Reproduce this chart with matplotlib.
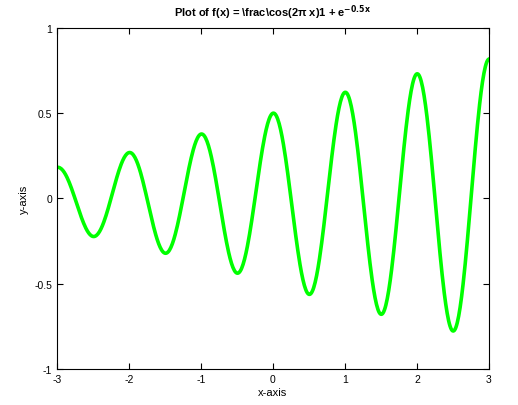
import numpy as np
import matplotlib
matplotlib.use("Agg")
import matplotlib.pyplot as plt

# curve as stated in the chart title: cos(2*pi*x) / (1 + e^(-0.5x))
x_range = [-3, 3]
freq = 2 * np.pi
decay = -0.5
n_samples = 600

xticks = [-3, -2, -1, 0, 1, 2, 3]
yticks = [-1, -0.5, 0, 0.5, 1]
ytick_labels = ["-1", "-0.5", "0", "0.5", "1"]

x = np.linspace(x_range[0], x_range[1], n_samples)
y = np.cos(freq * x) / (1 + np.exp(decay * x))

plt.rcParams['font.family'] = ['Liberation Sans', 'DejaVu Sans']
fig = plt.figure(figsize=(5.18, 4.06), dpi=100)
ax = fig.add_axes([0.110, 0.0887, 0.834, 0.840])
ax.plot(x, y, color='#00ff00', lw=2.6)
ax.set_xlim(x_range)
ax.set_ylim(-1, 1)
ax.set_xticks(xticks)
ax.set_xticklabels([str(t) for t in xticks])
ax.set_yticks(yticks)
ax.set_yticklabels(ytick_labels)
ax.tick_params(direction='in', top=True, right=True, labelsize=7.5, length=4)
ax.set_xlabel('x-axis', fontsize=8, labelpad=2)
ax.set_ylabel('y-axis', fontsize=8, labelpad=4)
ax.set_title(r'Plot of f(x) = \frac\cos(2π x)1 + e$^{\mathbf{-0.5x}}$',
             fontsize=8, fontweight='bold', pad=9)
fig.savefig('out.png', dpi=100)
